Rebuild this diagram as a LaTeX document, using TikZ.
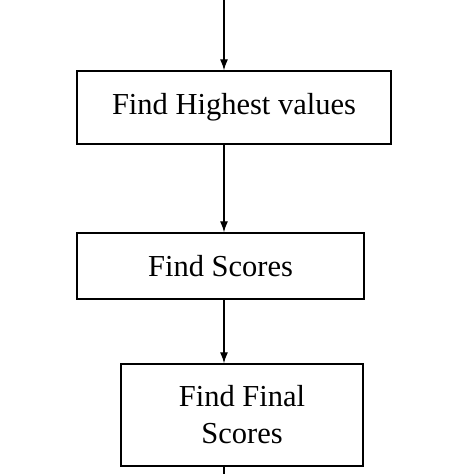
\documentclass[tikz,border=0pt]{standalone}
\usepackage{fontspec}
\setmainfont{Liberation Serif}
\usetikzlibrary{arrows.meta,positioning}

\begin{document}
\begin{tikzpicture}[x=1pt,y=1pt]%
\tikzstyle{flow}=[-{Latex[length=11pt,width=8pt]},line width=1.2pt]
\useasboundingbox (0,0) rectangle (474,-474);
\begin{scope}[shape=rectangle,inner sep=0pt,line width=1.4pt]%
\tikzstyle{every node}=[draw,font=\fontsize{30.5}{37}\selectfont,align=center] %%
\node[minimum width=314pt,minimum height=73pt] (highest) at (234,-107.5) {Find Highest values}; %%
\node[minimum width=287pt,minimum height=66pt] (scores) at (220.5,-266) {Find Scores}; %%
\node[minimum width=242pt,minimum height=102pt] (final) at (242,-415) {Find Final\\Scores}; %%
\end{scope}
\coordinate (in) at (224,0); %%
\coordinate (out) at (224,-474); %%
\draw[flow] (in)--(in |- highest.north); %%
\draw[flow] (highest.south -| in)--(scores.north -| in); %%
\draw[flow] (scores.south -| in)--(final.north -| in); %%
\draw[line width=1.2pt] (final.south -| in)--(out); %%
\end{tikzpicture}
\end{document}
